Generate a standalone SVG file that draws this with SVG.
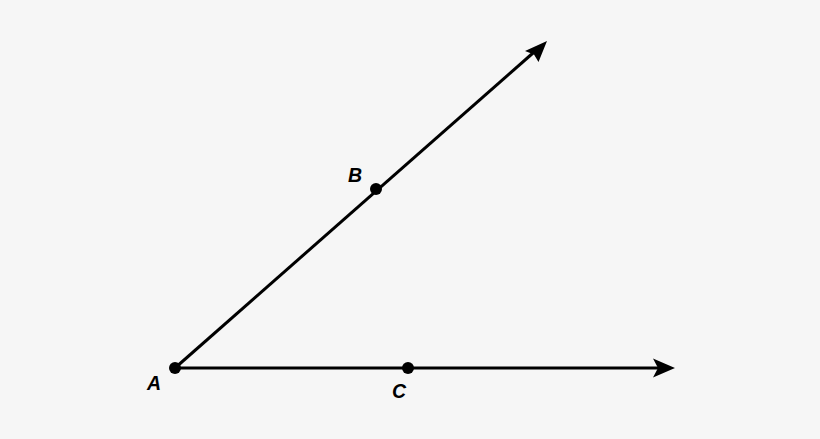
<svg xmlns="http://www.w3.org/2000/svg" width="820" height="439" viewBox="0 0 820 439">
<style>
.ray{stroke:#000;stroke-width:3;fill:none}
.pt{fill:#000}
.lbl{font-family:"Liberation Sans",Arial,sans-serif;font-weight:bold;font-style:italic;font-size:19.5px;fill:#000;text-anchor:middle}
.head{fill:#000}
</style>
<rect width="820" height="439" fill="#f6f6f6"/>
<g id="connectors">
<line class="ray" x1="175" y1="368" x2="533" y2="53"/>
<polygon class="head" points="547,41 538.5,62 534,54.5 525,51"/>
<line class="ray" x1="175" y1="368" x2="660" y2="368"/>
<polygon class="head" points="675,368 653,358.5 658,368 653,377.5"/>
</g>
<g id="A"><circle class="pt" cx="175" cy="368" r="6"/><text class="lbl" x="154" y="390">A</text></g>
<g id="B"><circle class="pt" cx="376" cy="189" r="6"/><text class="lbl" x="355" y="182">B</text></g>
<g id="C"><circle class="pt" cx="408" cy="368" r="6"/><text class="lbl" x="399" y="397.5">C</text></g>
</svg>
